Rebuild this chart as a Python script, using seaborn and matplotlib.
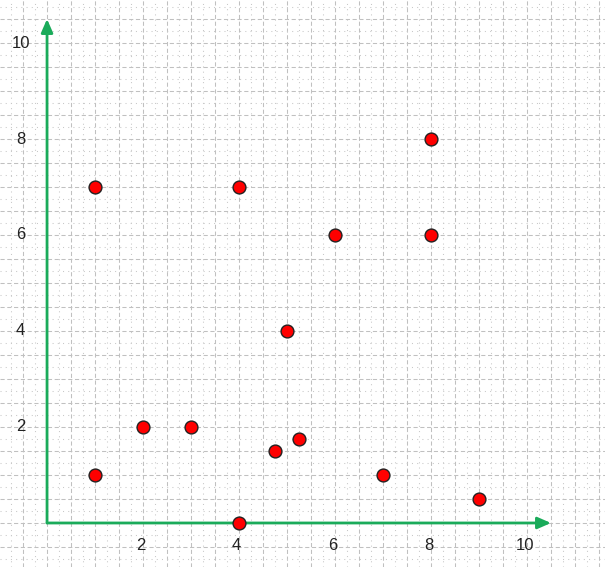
import pandas as pd
import seaborn as sns
import matplotlib.pyplot as plt
from matplotlib.ticker import MultipleLocator

# point data
x_vals = [1, 4, 8, 6, 8, 5, 2, 3, 1, 4.75, 5.25, 7, 9, 4]
y_vals = [7, 7, 8, 6, 6, 4, 2, 2, 1, 1.5, 1.75, 1, 0.5, 0]
x_ticks = [2, 4, 6, 8, 10]
y_ticks = [2, 4, 6, 8, 10]

df = pd.DataFrame({"x": x_vals, "y": y_vals})

sns.set_style("white")
plt.rcParams['font.family'] = ['Liberation Sans', 'DejaVu Sans']

fig = plt.figure(figsize=(6.05, 5.67), dpi=100)
ax = fig.add_axes([0, 0, 1, 1])
ax.set_xlim(-0.98, 11.625)
ax.set_ylim(-0.917, 10.896)

# background grid
ax.xaxis.set_major_locator(MultipleLocator(0.5))
ax.yaxis.set_major_locator(MultipleLocator(0.5))
ax.xaxis.set_minor_locator(MultipleLocator(0.25))
ax.yaxis.set_minor_locator(MultipleLocator(0.25))
ax.grid(which="major", color="#c0c0c0", linestyle=(0, (4, 2.5)), linewidth=0.75)
ax.grid(which="minor", color="#c8c8c8", linestyle=(0, (1, 4)), linewidth=0.75)
ax.tick_params(which="both", length=0, labelbottom=False, labelleft=False)
for s in ax.spines.values():
    s.set_visible(False)

# axes arrows
green = "#1aab5a"
for tip in [(10.5, 0), (0, 10.5)]:
    ax.annotate("", xy=tip, xytext=(0, 0),
                arrowprops=dict(arrowstyle="-|>,head_length=0.8,head_width=0.35",
                                color=green, lw=2, shrinkA=0, shrinkB=0))

sns.scatterplot(data=df, x="x", y="y", ax=ax, color="#ff0000", edgecolor="#222222",
                linewidth=1, s=85, zorder=5)

for t in x_ticks:
    ax.text(t - 0.05, -0.46, str(t), ha="center", va="center", fontsize=12, color="#222222")
for t in y_ticks:
    ax.text(-0.55, t, str(t), ha="center", va="center", fontsize=12, color="#222222")

ax.set_xlabel("")
ax.set_ylabel("")
fig.savefig("out.png", dpi=100)
